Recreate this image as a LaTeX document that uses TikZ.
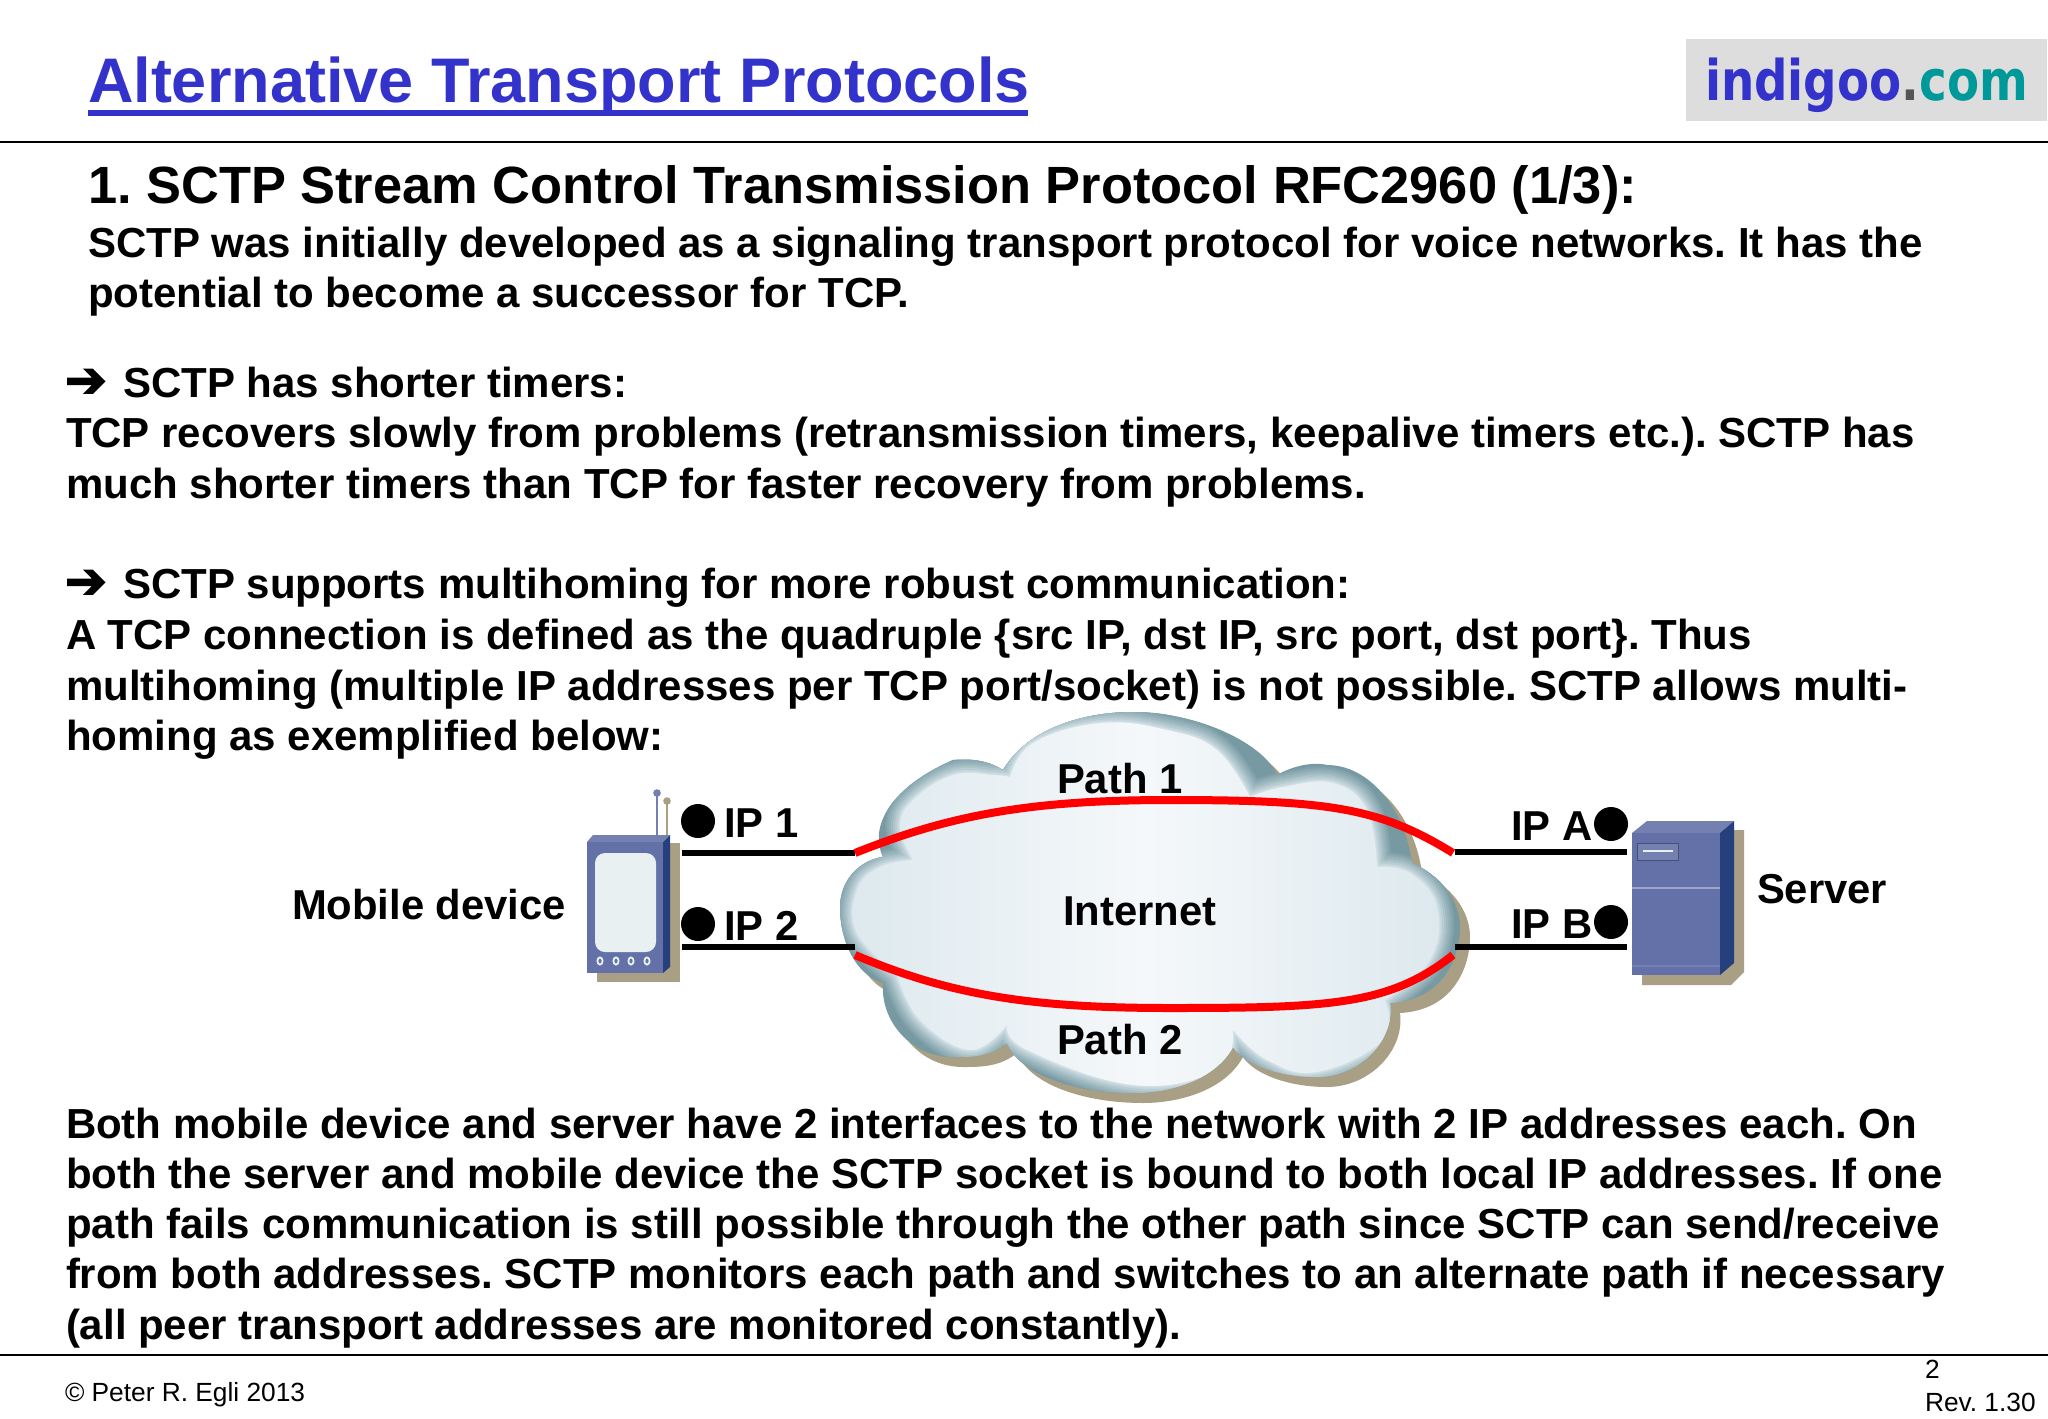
\documentclass[tikz,border=0pt]{standalone}
\usepackage{fontspec}
\setmainfont{Liberation Sans}
\newfontfamily\logofont{DejaVu Sans}[FakeStretch=0.835]
\newfontfamily\arrowfont{DejaVu Sans}[FakeBold=3]
\definecolor{titleblue}{HTML}{3333CC}
\definecolor{logogray}{HTML}{DDDDDD}
\definecolor{logodot}{HTML}{555555}
\definecolor{logoteal}{HTML}{009999}
\definecolor{shadowc}{HTML}{A89F85}
\definecolor{cloudedge}{HTML}{7699A2}
\definecolor{cloudin}{HTML}{DDE9EE}
\definecolor{cloudlight}{HTML}{F5F8FA}
\definecolor{devfront}{HTML}{6471A8}
\definecolor{devtop}{HTML}{7480B0}
\definecolor{devside}{HTML}{25407C}
\definecolor{screenc}{HTML}{E8F0F2}
\newcommand{\cloudpath}{(883,857) .. controls (870,830) and (885,790) .. (953,760)
 .. controls (975,758) and (990,762) .. (1003,770)
 .. controls (1030,725) and (1090,712) .. (1133,712)
 .. controls (1200,712) and (1265,745) .. (1277,775)
 .. controls (1300,762) and (1320,763) .. (1327,765)
 .. controls (1370,765) and (1405,810) .. (1412,863)
 .. controls (1440,875) and (1460,900) .. (1460,927)
 .. controls (1460,955) and (1445,1000) .. (1390,1003)
 .. controls (1395,1040) and (1360,1077) .. (1317,1077)
 .. controls (1280,1077) and (1245,1065) .. (1233,1047)
 .. controls (1215,1080) and (1170,1093) .. (1133,1093)
 .. controls (1075,1093) and (1020,1075) .. (1007,1043)
 .. controls (990,1057) and (970,1057) .. (953,1057)
 .. controls (910,1057) and (880,1020) .. (883,983)
 .. controls (855,975) and (840,940) .. (840,907)
 .. controls (840,880) and (860,860) .. (883,857) -- cycle}
\newcommand{\innerpath}{plot[smooth,tension=0.7] coordinates {(913,860) (900,827) (913,800) (953,775) (993,775) (1010,777)}
 -- plot[smooth,tension=0.7] coordinates {(1010,777) (1033,743) (1100,723) (1167,730) (1217,750) (1250,797)}
 -- plot[smooth,tension=0.7] coordinates {(1250,797) (1283,787) (1333,783) (1367,810) (1377,867)}
 -- plot[smooth,tension=0.7] coordinates {(1377,867) (1410,873) (1437,907) (1430,960) (1385,1000)}
 -- plot[smooth,tension=0.7] coordinates {(1385,1000) (1383,1040) (1317,1072) (1267,1060) (1233,1030)}
 -- plot[smooth,tension=0.7] coordinates {(1233,1030) (1217,1070) (1133,1085) (1027,1050) (1007,1025)}
 -- plot[smooth,tension=0.7] coordinates {(1007,1025) (970,1050) (920,1020) (897,975)}
 -- plot[smooth,tension=0.7] coordinates {(897,975) (857,933) (857,890) (880,867) (913,860)} -- cycle}
\tikzset{
  txt/.style={anchor=base west,inner sep=0pt,outer sep=0pt},
  titlet/.style={txt,font=\fontsize{31.5}{36}\selectfont\bfseries,text=titleblue},
  subt/.style={txt,font=\fontsize{26.2}{31}\selectfont\bfseries},
  bodyt/.style={txt,font=\fontsize{21}{26}\selectfont\bfseries},
  arrowt/.style={txt,font=\fontsize{25}{26}\arrowfont},
  labelt/.style={txt,font=\fontsize{20.9}{25}\selectfont\bfseries},
  smallt/.style={txt,font=\fontsize{13.15}{16}\selectfont},
  hrule/.style={line width=1pt,black},
  blackline/.style={line width=3pt,black},
  redpath/.style={line width=4pt,red},
  ipdot/.style={circle,fill=black,inner sep=0pt,minimum size=17pt},
  bevel/.style={line join=round},
}
\begin{document}
\frenchspacing
\begin{tikzpicture}[x=0.5pt,y=-0.5pt]
\useasboundingbox (0,0) rectangle (2048,1418);
\fill[white] (0,0) rectangle (2048,1418);
% header
\node[titlet] (title) at (88,103) {Alternative Transport Protocols};
\draw[titleblue,line width=3.2pt] (88,113) -- (1028,113);
\fill[logogray] (1686,39) rectangle (2047,121);
\node[txt,font=\fontsize{28}{33}\logofont\bfseries] (logo) at (1705,101) {\textcolor{titleblue}{indigoo}\textcolor{logodot}{.}\textcolor{logoteal}{com}};
\coordinate (hl) at (0,141.5); \coordinate (hr) at (2048,141.5);
\draw[hrule] (hl) -- (hr);
\node[subt] (sub) at (88,203) {1. SCTP Stream Control Transmission Protocol RFC2960 (1/3):};
\node[bodyt] (a1) at (88,257) {SCTP was initially developed as a signaling transport protocol for voice networks. It has the};
\node[bodyt] (a2) at (88,307) {potential to become a successor for TCP.};
\node[arrowt] (b00) at (65,397) {➔};
\node[bodyt] (b0) at (123,397) {SCTP has shorter timers:};
\node[bodyt] (b1) at (66,447.5) {TCP recovers slowly from problems (retransmission timers, keepalive timers etc.). SCTP has};
\node[bodyt] (b2) at (66,498) {much shorter timers than TCP for faster recovery from problems.};
\node[arrowt] (c00) at (65,598) {➔};
\node[bodyt] (c0) at (123,598) {SCTP supports multihoming for more robust communication:};
\node[bodyt] (c1) at (66,649) {A TCP connection is defined as the quadruple \{src IP, dst IP, src port, dst port\}. Thus};
\node[bodyt] (c2) at (66,700) {multihoming (multiple IP addresses per TCP port/socket) is not possible. SCTP allows multi-};
\node[bodyt] (c3) at (66,750) {homing as exemplified below:};
% cloud
\fill[shadowc,shift={(10,10)}] \cloudpath;
\fill[cloudedge] \cloudpath;
\begin{scope}
\clip \cloudpath;
\foreach \w/\p in {15/90,13/80,11/70,9/60,7/48,5/36,3/24,1.5/12}{
  \draw[bevel,cloudedge!\p!cloudin,line width=\w pt] \innerpath;
}
\shade[left color=cloudin,right color=cloudin,middle color=cloudlight] \innerpath;
\end{scope}
% mobile device
\fill[shadowc] (597,843) rectangle (680,982);
\draw[devtop,line width=1pt] (657,835) -- (657,793);
\fill[devtop] (657,793) circle (3.8);
\draw[shadowc,line width=1pt] (667,835) -- (667,801);
\fill[shadowc] (667,801) circle (3.8);
\fill[devtop] (587,842) -- (593,835) -- (670,835) -- (663,842) -- cycle;
\fill[devside] (663,842) -- (670,835) -- (670,967) -- (663,973) -- cycle;
\fill[devfront] (587,842) rectangle (663,973);
\fill[screenc,rounded corners=5pt] (595,853) rectangle (656,952);
\foreach \bx in {600,616,631,647}{
  \draw[screenc,line width=0.9pt] (\bx,961) ellipse (2.6 and 3.6);
}
% server
\fill[shadowc] (1642,830) -- (1744,830) -- (1744,972) -- (1731,985) -- (1642,985) -- cycle;
\fill[devtop] (1632,833) -- (1647,821) -- (1734,821) -- (1720,833) -- cycle;
\fill[devside] (1720,833) -- (1734,821) -- (1734,963) -- (1720,975) -- cycle;
\fill[devfront] (1632,833) rectangle (1720,975);
\draw[devtop!70!white,line width=0.6pt] (1632,888) -- (1720,888);
\draw[devtop,line width=0.6pt] (1632,966) -- (1720,966);
\fill[devtop] (1637,843) rectangle (1678,860);
\draw[devfront!70!black,line width=0.5pt] (1637,843) rectangle (1678,860);
\draw[screenc,line width=1pt] (1643,851) -- (1673,851);
% connectors
\coordinate (d1) at (682,853); \coordinate (n1) at (855,853);
\coordinate (d2) at (682,947); \coordinate (n2) at (855,947);
\coordinate (m1) at (1455,852); \coordinate (s1) at (1627,852);
\coordinate (m2) at (1455,947); \coordinate (s2) at (1627,947);
\draw[blackline] (d1) -- (n1);
\draw[blackline] (d2) -- (n2);
\draw[blackline] (m1) -- (s1);
\draw[blackline] (m2) -- (s2);
\coordinate (r1a) at (855,853); \coordinate (r1b) at (1453,853);
\coordinate (r2a) at (855,955); \coordinate (r2b) at (1453,955);
\draw[redpath] (r1a) .. controls (950,815) and (1030,800) .. (1170,800) .. controls (1330,800) and (1380,808) .. (r1b);
\draw[redpath] (r2a) .. controls (950,995) and (1030,1008) .. (1170,1008) .. controls (1330,1008) and (1390,1005) .. (r2b);
\node[ipdot] (dot1) at (698,821) {};
\node[ipdot] (dot2) at (698,924) {};
\node[ipdot] (dota) at (1611,824) {};
\node[ipdot] (dotb) at (1611,922) {};
\node[labelt] (ip1) at (724,837) {IP 1};
\node[labelt] (ip2) at (724,940) {IP 2};
\node[labelt] (ipa) at (1511,840) {IP A};
\node[labelt] (ipb) at (1511,938) {IP B};
\node[labelt] (p1) at (1057,793) {Path 1};
\node[labelt] (inet) at (1063,925) {Internet};
\node[labelt] (p2) at (1057,1054) {Path 2};
\node[labelt] (mob) at (292,919) {Mobile device};
\node[labelt] (srv) at (1757,903) {Server};
% lower text
\node[bodyt] (d1t) at (66,1138) {Both mobile device and server have 2 interfaces to the network with 2 IP addresses each. On};
\node[bodyt] (d2t) at (66,1188.5) {both the server and mobile device the SCTP socket is bound to both local IP addresses. If one};
\node[bodyt] (d3t) at (66,1238.5) {path fails communication is still possible through the other path since SCTP can send/receive};
\node[bodyt] (d4t) at (66,1288.5) {from both addresses. SCTP monitors each path and switches to an alternate path if necessary};
\node[bodyt] (d5t) at (66,1339) {(all peer transport addresses are monitored constantly).};
% footer
\coordinate (fl) at (0,1354.5); \coordinate (fr) at (2048,1354.5);
\draw[hrule] (fl) -- (fr);
\node[smallt] (copy) at (65,1401) {© Peter R. Egli 2013};
\node[smallt] (pg) at (1925,1378) {2};
\node[smallt] (rev) at (1925,1411) {Rev. 1.30};
\end{tikzpicture}
\end{document}
